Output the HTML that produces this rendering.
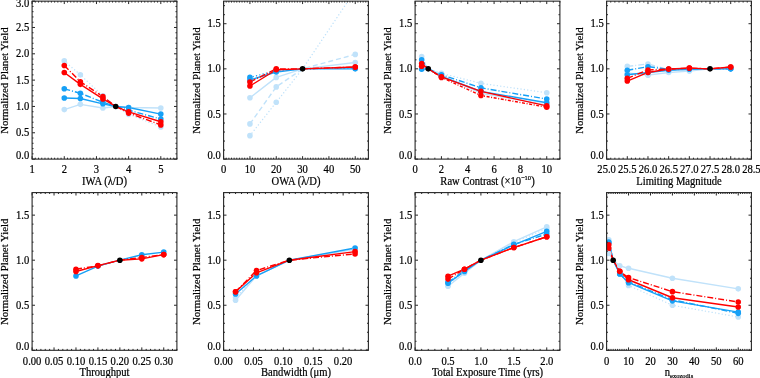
<!DOCTYPE html><html><head><meta charset="utf-8"><style>html,body{margin:0;padding:0;background:#fff;width:760px;height:378px;overflow:hidden}svg{display:block;will-change:transform}text{font-family:"Liberation Serif", serif;fill:#000;stroke:#000;stroke-width:0.2px}</style></head><body>
<svg width="760" height="378" viewBox="0 0 760 378">
<g>
<clipPath id="c00"><rect x="32.10" y="1.15" width="144.80" height="157.95"/></clipPath>
<g clip-path="url(#c00)">
<polyline points="64.28,109.61 80.37,104.34 102.89,108.03 115.76,106.45 128.63,107.50 160.81,108.03" fill="none" stroke="#c0e2fa" stroke-width="1.4" stroke-linejoin="round"/>
<polyline points="64.28,60.91 80.37,74.86 102.89,95.92 115.76,106.45 128.63,114.35 160.81,126.98" fill="none" stroke="#c0e2fa" stroke-width="1.4" stroke-linejoin="round" stroke-linecap="round" stroke-width="1.3" stroke-dasharray="0.01 3.4"/>
<polyline points="64.28,98.03 80.37,98.55 102.89,103.82 115.76,106.45 128.63,107.50 160.81,114.08" fill="none" stroke="#16a0f6" stroke-width="1.4" stroke-linejoin="round"/>
<polyline points="64.28,88.81 80.37,93.29 102.89,102.24 115.76,106.45 128.63,110.14 160.81,119.09" fill="none" stroke="#16a0f6" stroke-width="1.4" stroke-linejoin="round" stroke-dasharray="6 2 1 2"/>
<polyline points="64.28,72.44 80.37,84.34 102.89,98.92 115.76,106.45 128.63,111.87 160.81,121.72" fill="none" stroke="#ff0000" stroke-width="1.4" stroke-linejoin="round"/>
<polyline points="64.28,65.54 80.37,81.70 102.89,96.60 115.76,106.45 128.63,113.08 160.81,124.88" fill="none" stroke="#ff0000" stroke-width="1.4" stroke-linejoin="round" stroke-dasharray="6 2 1 2"/>
<circle cx="64.28" cy="109.61" r="2.8" fill="#c0e2fa"/>
<circle cx="80.37" cy="104.34" r="2.8" fill="#c0e2fa"/>
<circle cx="102.89" cy="108.03" r="2.8" fill="#c0e2fa"/>
<circle cx="128.63" cy="107.50" r="2.8" fill="#c0e2fa"/>
<circle cx="160.81" cy="108.03" r="2.8" fill="#c0e2fa"/>
<circle cx="64.28" cy="60.91" r="2.8" fill="#c0e2fa"/>
<circle cx="80.37" cy="74.86" r="2.8" fill="#c0e2fa"/>
<circle cx="102.89" cy="95.92" r="2.8" fill="#c0e2fa"/>
<circle cx="128.63" cy="114.35" r="2.8" fill="#c0e2fa"/>
<circle cx="160.81" cy="126.98" r="2.8" fill="#c0e2fa"/>
<circle cx="64.28" cy="98.03" r="2.8" fill="#16a0f6"/>
<circle cx="80.37" cy="98.55" r="2.8" fill="#16a0f6"/>
<circle cx="102.89" cy="103.82" r="2.8" fill="#16a0f6"/>
<circle cx="128.63" cy="107.50" r="2.8" fill="#16a0f6"/>
<circle cx="160.81" cy="114.08" r="2.8" fill="#16a0f6"/>
<circle cx="64.28" cy="88.81" r="2.8" fill="#16a0f6"/>
<circle cx="80.37" cy="93.29" r="2.8" fill="#16a0f6"/>
<circle cx="102.89" cy="102.24" r="2.8" fill="#16a0f6"/>
<circle cx="128.63" cy="110.14" r="2.8" fill="#16a0f6"/>
<circle cx="160.81" cy="119.09" r="2.8" fill="#16a0f6"/>
<circle cx="64.28" cy="72.44" r="2.8" fill="#ff0000"/>
<circle cx="80.37" cy="84.34" r="2.8" fill="#ff0000"/>
<circle cx="102.89" cy="98.92" r="2.8" fill="#ff0000"/>
<circle cx="128.63" cy="111.87" r="2.8" fill="#ff0000"/>
<circle cx="160.81" cy="121.72" r="2.8" fill="#ff0000"/>
<circle cx="64.28" cy="65.54" r="2.8" fill="#ff0000"/>
<circle cx="80.37" cy="81.70" r="2.8" fill="#ff0000"/>
<circle cx="102.89" cy="96.60" r="2.8" fill="#ff0000"/>
<circle cx="128.63" cy="113.08" r="2.8" fill="#ff0000"/>
<circle cx="160.81" cy="124.88" r="2.8" fill="#ff0000"/>
<circle cx="115.76" cy="106.45" r="2.8" fill="#000"/>
</g>
<rect x="32.10" y="1.15" width="144.80" height="157.95" fill="none" stroke="#262626" stroke-width="1.1"/>
<path d="M32.10 159.10v-2.90M32.10 1.15v2.90M35.32 159.10v-1.40M35.32 1.15v1.40M38.54 159.10v-1.40M38.54 1.15v1.40M41.75 159.10v-1.40M41.75 1.15v1.40M44.97 159.10v-1.40M44.97 1.15v1.40M48.19 159.10v-1.40M48.19 1.15v1.40M51.41 159.10v-1.40M51.41 1.15v1.40M54.62 159.10v-1.40M54.62 1.15v1.40M57.84 159.10v-1.40M57.84 1.15v1.40M61.06 159.10v-1.40M61.06 1.15v1.40M64.28 159.10v-2.90M64.28 1.15v2.90M67.50 159.10v-1.40M67.50 1.15v1.40M70.71 159.10v-1.40M70.71 1.15v1.40M73.93 159.10v-1.40M73.93 1.15v1.40M77.15 159.10v-1.40M77.15 1.15v1.40M80.37 159.10v-1.40M80.37 1.15v1.40M83.58 159.10v-1.40M83.58 1.15v1.40M86.80 159.10v-1.40M86.80 1.15v1.40M90.02 159.10v-1.40M90.02 1.15v1.40M93.24 159.10v-1.40M93.24 1.15v1.40M96.46 159.10v-2.90M96.46 1.15v2.90M99.67 159.10v-1.40M99.67 1.15v1.40M102.89 159.10v-1.40M102.89 1.15v1.40M106.11 159.10v-1.40M106.11 1.15v1.40M109.33 159.10v-1.40M109.33 1.15v1.40M112.54 159.10v-1.40M112.54 1.15v1.40M115.76 159.10v-1.40M115.76 1.15v1.40M118.98 159.10v-1.40M118.98 1.15v1.40M122.20 159.10v-1.40M122.20 1.15v1.40M125.42 159.10v-1.40M125.42 1.15v1.40M128.63 159.10v-2.90M128.63 1.15v2.90M131.85 159.10v-1.40M131.85 1.15v1.40M135.07 159.10v-1.40M135.07 1.15v1.40M138.29 159.10v-1.40M138.29 1.15v1.40M141.50 159.10v-1.40M141.50 1.15v1.40M144.72 159.10v-1.40M144.72 1.15v1.40M147.94 159.10v-1.40M147.94 1.15v1.40M151.16 159.10v-1.40M151.16 1.15v1.40M154.38 159.10v-1.40M154.38 1.15v1.40M157.59 159.10v-1.40M157.59 1.15v1.40M160.81 159.10v-2.90M160.81 1.15v2.90M164.03 159.10v-1.40M164.03 1.15v1.40M167.25 159.10v-1.40M167.25 1.15v1.40M170.46 159.10v-1.40M170.46 1.15v1.40M173.68 159.10v-1.40M173.68 1.15v1.40M176.90 159.10v-1.40M176.90 1.15v1.40M32.10 159.10h2.90M176.90 159.10h-2.90M32.10 153.84h1.40M176.90 153.84h-1.40M32.10 148.57h1.40M176.90 148.57h-1.40M32.10 143.31h1.40M176.90 143.31h-1.40M32.10 138.04h1.40M176.90 138.04h-1.40M32.10 132.78h2.90M176.90 132.78h-2.90M32.10 127.51h1.40M176.90 127.51h-1.40M32.10 122.24h1.40M176.90 122.24h-1.40M32.10 116.98h1.40M176.90 116.98h-1.40M32.10 111.72h1.40M176.90 111.72h-1.40M32.10 106.45h2.90M176.90 106.45h-2.90M32.10 101.19h1.40M176.90 101.19h-1.40M32.10 95.92h1.40M176.90 95.92h-1.40M32.10 90.66h1.40M176.90 90.66h-1.40M32.10 85.39h1.40M176.90 85.39h-1.40M32.10 80.12h2.90M176.90 80.12h-2.90M32.10 74.86h1.40M176.90 74.86h-1.40M32.10 69.59h1.40M176.90 69.59h-1.40M32.10 64.33h1.40M176.90 64.33h-1.40M32.10 59.06h1.40M176.90 59.06h-1.40M32.10 53.80h2.90M176.90 53.80h-2.90M32.10 48.53h1.40M176.90 48.53h-1.40M32.10 43.27h1.40M176.90 43.27h-1.40M32.10 38.00h1.40M176.90 38.00h-1.40M32.10 32.74h1.40M176.90 32.74h-1.40M32.10 27.47h2.90M176.90 27.47h-2.90M32.10 22.21h1.40M176.90 22.21h-1.40M32.10 16.94h1.40M176.90 16.94h-1.40M32.10 11.68h1.40M176.90 11.68h-1.40M32.10 6.41h1.40M176.90 6.41h-1.40M32.10 1.15h2.90M176.90 1.15h-2.90" stroke="#262626" stroke-width="1.0" fill="none"/>
<text transform="translate(32.10 173.30) scale(1 1.100)" font-size="10.6" text-anchor="middle">1</text>
<text transform="translate(64.28 173.30) scale(1 1.100)" font-size="10.6" text-anchor="middle">2</text>
<text transform="translate(96.46 173.30) scale(1 1.100)" font-size="10.6" text-anchor="middle">3</text>
<text transform="translate(128.63 173.30) scale(1 1.100)" font-size="10.6" text-anchor="middle">4</text>
<text transform="translate(160.81 173.30) scale(1 1.100)" font-size="10.6" text-anchor="middle">5</text>
<text transform="translate(29.30 159.10) scale(1 1.100)" font-size="10.6" text-anchor="end">0.0</text>
<text transform="translate(29.30 136.38) scale(1 1.100)" font-size="10.6" text-anchor="end">0.5</text>
<text transform="translate(29.30 110.05) scale(1 1.100)" font-size="10.6" text-anchor="end">1.0</text>
<text transform="translate(29.30 83.72) scale(1 1.100)" font-size="10.6" text-anchor="end">1.5</text>
<text transform="translate(29.30 57.40) scale(1 1.100)" font-size="10.6" text-anchor="end">2.0</text>
<text transform="translate(29.30 31.07) scale(1 1.100)" font-size="10.6" text-anchor="end">2.5</text>
<text transform="translate(29.30 6.85) scale(1 1.100)" font-size="10.6" text-anchor="end">3.0</text>
<text transform="translate(8.10 80.53) rotate(-90)" font-size="10.8" text-anchor="middle">Normalized Planet Yield</text>
<text transform="translate(104.50 184.50) scale(1 1.100)" font-size="10.6" text-anchor="middle">IWA (λ/D)</text>
</g>
<g>
<clipPath id="c10"><rect x="223.60" y="1.15" width="144.80" height="157.95"/></clipPath>
<g clip-path="url(#c10)">
<polyline points="249.93,97.73 276.25,77.42 302.58,68.84 355.24,62.52" fill="none" stroke="#c0e2fa" stroke-width="1.4" stroke-linejoin="round"/>
<polyline points="249.93,123.90 276.25,86.89 302.58,68.84 355.24,54.40" fill="none" stroke="#c0e2fa" stroke-width="1.4" stroke-linejoin="round" stroke-dasharray="5 3"/>
<polyline points="249.93,135.63 276.25,102.24 302.58,68.84 355.24,-9.68" fill="none" stroke="#c0e2fa" stroke-width="1.4" stroke-linejoin="round" stroke-linecap="round" stroke-width="1.3" stroke-dasharray="0.01 3.4"/>
<polyline points="249.93,79.94 276.25,72.00 302.58,68.84 355.24,68.84" fill="none" stroke="#16a0f6" stroke-width="1.4" stroke-linejoin="round"/>
<polyline points="249.93,77.42 276.25,70.65 302.58,68.84 355.24,67.94" fill="none" stroke="#16a0f6" stroke-width="1.4" stroke-linejoin="round" stroke-linecap="round" stroke-width="1.3" stroke-dasharray="0.01 3.4"/>
<polyline points="249.93,81.93 276.25,68.84 302.58,68.84 355.24,67.04" fill="none" stroke="#ff0000" stroke-width="1.4" stroke-linejoin="round" stroke-dasharray="6 2 1 2"/>
<polyline points="249.93,85.99 276.25,69.75 302.58,68.84 355.24,67.04" fill="none" stroke="#ff0000" stroke-width="1.4" stroke-linejoin="round"/>
<circle cx="249.93" cy="97.73" r="2.8" fill="#c0e2fa"/>
<circle cx="276.25" cy="77.42" r="2.8" fill="#c0e2fa"/>
<circle cx="355.24" cy="62.52" r="2.8" fill="#c0e2fa"/>
<circle cx="249.93" cy="123.90" r="2.8" fill="#c0e2fa"/>
<circle cx="276.25" cy="86.89" r="2.8" fill="#c0e2fa"/>
<circle cx="355.24" cy="54.40" r="2.8" fill="#c0e2fa"/>
<circle cx="249.93" cy="135.63" r="2.8" fill="#c0e2fa"/>
<circle cx="276.25" cy="102.24" r="2.8" fill="#c0e2fa"/>
<circle cx="355.24" cy="-9.68" r="2.8" fill="#c0e2fa"/>
<circle cx="249.93" cy="79.94" r="2.8" fill="#16a0f6"/>
<circle cx="276.25" cy="72.00" r="2.8" fill="#16a0f6"/>
<circle cx="355.24" cy="68.84" r="2.8" fill="#16a0f6"/>
<circle cx="249.93" cy="77.42" r="2.8" fill="#16a0f6"/>
<circle cx="276.25" cy="70.65" r="2.8" fill="#16a0f6"/>
<circle cx="355.24" cy="67.94" r="2.8" fill="#16a0f6"/>
<circle cx="249.93" cy="81.93" r="2.8" fill="#ff0000"/>
<circle cx="276.25" cy="68.84" r="2.8" fill="#ff0000"/>
<circle cx="355.24" cy="67.04" r="2.8" fill="#ff0000"/>
<circle cx="249.93" cy="85.99" r="2.8" fill="#ff0000"/>
<circle cx="276.25" cy="69.75" r="2.8" fill="#ff0000"/>
<circle cx="355.24" cy="67.04" r="2.8" fill="#ff0000"/>
<circle cx="302.58" cy="68.84" r="2.8" fill="#000"/>
</g>
<rect x="223.60" y="1.15" width="144.80" height="157.95" fill="none" stroke="#262626" stroke-width="1.1"/>
<path d="M223.60 159.10v-2.90M223.60 1.15v2.90M226.23 159.10v-1.40M226.23 1.15v1.40M228.87 159.10v-1.40M228.87 1.15v1.40M231.50 159.10v-1.40M231.50 1.15v1.40M234.13 159.10v-1.40M234.13 1.15v1.40M236.76 159.10v-1.40M236.76 1.15v1.40M239.40 159.10v-1.40M239.40 1.15v1.40M242.03 159.10v-1.40M242.03 1.15v1.40M244.66 159.10v-1.40M244.66 1.15v1.40M247.29 159.10v-1.40M247.29 1.15v1.40M249.93 159.10v-2.90M249.93 1.15v2.90M252.56 159.10v-1.40M252.56 1.15v1.40M255.19 159.10v-1.40M255.19 1.15v1.40M257.83 159.10v-1.40M257.83 1.15v1.40M260.46 159.10v-1.40M260.46 1.15v1.40M263.09 159.10v-1.40M263.09 1.15v1.40M265.72 159.10v-1.40M265.72 1.15v1.40M268.36 159.10v-1.40M268.36 1.15v1.40M270.99 159.10v-1.40M270.99 1.15v1.40M273.62 159.10v-1.40M273.62 1.15v1.40M276.25 159.10v-2.90M276.25 1.15v2.90M278.89 159.10v-1.40M278.89 1.15v1.40M281.52 159.10v-1.40M281.52 1.15v1.40M284.15 159.10v-1.40M284.15 1.15v1.40M286.79 159.10v-1.40M286.79 1.15v1.40M289.42 159.10v-1.40M289.42 1.15v1.40M292.05 159.10v-1.40M292.05 1.15v1.40M294.68 159.10v-1.40M294.68 1.15v1.40M297.32 159.10v-1.40M297.32 1.15v1.40M299.95 159.10v-1.40M299.95 1.15v1.40M302.58 159.10v-2.90M302.58 1.15v2.90M305.21 159.10v-1.40M305.21 1.15v1.40M307.85 159.10v-1.40M307.85 1.15v1.40M310.48 159.10v-1.40M310.48 1.15v1.40M313.11 159.10v-1.40M313.11 1.15v1.40M315.75 159.10v-1.40M315.75 1.15v1.40M318.38 159.10v-1.40M318.38 1.15v1.40M321.01 159.10v-1.40M321.01 1.15v1.40M323.64 159.10v-1.40M323.64 1.15v1.40M326.28 159.10v-1.40M326.28 1.15v1.40M328.91 159.10v-2.90M328.91 1.15v2.90M331.54 159.10v-1.40M331.54 1.15v1.40M334.17 159.10v-1.40M334.17 1.15v1.40M336.81 159.10v-1.40M336.81 1.15v1.40M339.44 159.10v-1.40M339.44 1.15v1.40M342.07 159.10v-1.40M342.07 1.15v1.40M344.71 159.10v-1.40M344.71 1.15v1.40M347.34 159.10v-1.40M347.34 1.15v1.40M349.97 159.10v-1.40M349.97 1.15v1.40M352.60 159.10v-1.40M352.60 1.15v1.40M355.24 159.10v-2.90M355.24 1.15v2.90M357.87 159.10v-1.40M357.87 1.15v1.40M360.50 159.10v-1.40M360.50 1.15v1.40M363.13 159.10v-1.40M363.13 1.15v1.40M365.77 159.10v-1.40M365.77 1.15v1.40M368.40 159.10v-1.40M368.40 1.15v1.40M223.60 159.10h2.90M368.40 159.10h-2.90M223.60 150.07h1.40M368.40 150.07h-1.40M223.60 141.05h1.40M368.40 141.05h-1.40M223.60 132.02h1.40M368.40 132.02h-1.40M223.60 123.00h1.40M368.40 123.00h-1.40M223.60 113.97h2.90M368.40 113.97h-2.90M223.60 104.95h1.40M368.40 104.95h-1.40M223.60 95.92h1.40M368.40 95.92h-1.40M223.60 86.89h1.40M368.40 86.89h-1.40M223.60 77.87h1.40M368.40 77.87h-1.40M223.60 68.84h2.90M368.40 68.84h-2.90M223.60 59.82h1.40M368.40 59.82h-1.40M223.60 50.79h1.40M368.40 50.79h-1.40M223.60 41.77h1.40M368.40 41.77h-1.40M223.60 32.74h1.40M368.40 32.74h-1.40M223.60 23.71h2.90M368.40 23.71h-2.90M223.60 14.69h1.40M368.40 14.69h-1.40M223.60 5.66h1.40M368.40 5.66h-1.40" stroke="#262626" stroke-width="1.0" fill="none"/>
<text transform="translate(223.60 173.30) scale(1 1.100)" font-size="10.6" text-anchor="middle">0</text>
<text transform="translate(249.93 173.30) scale(1 1.100)" font-size="10.6" text-anchor="middle">10</text>
<text transform="translate(276.25 173.30) scale(1 1.100)" font-size="10.6" text-anchor="middle">20</text>
<text transform="translate(302.58 173.30) scale(1 1.100)" font-size="10.6" text-anchor="middle">30</text>
<text transform="translate(328.91 173.30) scale(1 1.100)" font-size="10.6" text-anchor="middle">40</text>
<text transform="translate(355.24 173.30) scale(1 1.100)" font-size="10.6" text-anchor="middle">50</text>
<text transform="translate(220.80 159.10) scale(1 1.100)" font-size="10.6" text-anchor="end">0.0</text>
<text transform="translate(220.80 117.57) scale(1 1.100)" font-size="10.6" text-anchor="end">0.5</text>
<text transform="translate(220.80 72.44) scale(1 1.100)" font-size="10.6" text-anchor="end">1.0</text>
<text transform="translate(220.80 27.31) scale(1 1.100)" font-size="10.6" text-anchor="end">1.5</text>
<text transform="translate(199.60 80.53) rotate(-90)" font-size="10.8" text-anchor="middle">Normalized Planet Yield</text>
<text transform="translate(296.00 184.50) scale(1 1.100)" font-size="10.6" text-anchor="middle">OWA (λ/D)</text>
</g>
<g>
<clipPath id="c20"><rect x="415.10" y="1.15" width="144.80" height="157.95"/></clipPath>
<g clip-path="url(#c20)">
<polyline points="421.68,56.48 428.26,68.84 441.43,73.36 480.92,83.28 546.74,92.76" fill="none" stroke="#c0e2fa" stroke-width="1.4" stroke-linejoin="round" stroke-linecap="round" stroke-width="1.3" stroke-dasharray="0.01 3.4"/>
<polyline points="421.68,68.84 428.26,68.84 441.43,75.61 480.92,93.21 546.74,104.95" fill="none" stroke="#c0e2fa" stroke-width="1.4" stroke-linejoin="round"/>
<polyline points="421.68,59.82 428.26,68.84 441.43,74.71 480.92,87.80 546.74,99.08" fill="none" stroke="#16a0f6" stroke-width="1.4" stroke-linejoin="round" stroke-dasharray="6 2 1 2"/>
<polyline points="421.68,69.20 428.26,68.84 441.43,76.51 480.92,91.41 546.74,102.69" fill="none" stroke="#16a0f6" stroke-width="1.4" stroke-linejoin="round"/>
<polyline points="421.68,63.61 428.26,68.84 441.43,76.79 480.92,91.41 546.74,105.85" fill="none" stroke="#ff0000" stroke-width="1.4" stroke-linejoin="round"/>
<polyline points="421.68,66.14 428.26,68.84 441.43,77.42 480.92,95.47 546.74,107.20" fill="none" stroke="#ff0000" stroke-width="1.4" stroke-linejoin="round" stroke-dasharray="3 1.6 1 1.6"/>
<circle cx="421.68" cy="56.48" r="2.8" fill="#c0e2fa"/>
<circle cx="441.43" cy="73.36" r="2.8" fill="#c0e2fa"/>
<circle cx="480.92" cy="83.28" r="2.8" fill="#c0e2fa"/>
<circle cx="546.74" cy="92.76" r="2.8" fill="#c0e2fa"/>
<circle cx="421.68" cy="68.84" r="2.8" fill="#c0e2fa"/>
<circle cx="441.43" cy="75.61" r="2.8" fill="#c0e2fa"/>
<circle cx="480.92" cy="93.21" r="2.8" fill="#c0e2fa"/>
<circle cx="546.74" cy="104.95" r="2.8" fill="#c0e2fa"/>
<circle cx="421.68" cy="59.82" r="2.8" fill="#16a0f6"/>
<circle cx="441.43" cy="74.71" r="2.8" fill="#16a0f6"/>
<circle cx="480.92" cy="87.80" r="2.8" fill="#16a0f6"/>
<circle cx="546.74" cy="99.08" r="2.8" fill="#16a0f6"/>
<circle cx="421.68" cy="69.20" r="2.8" fill="#16a0f6"/>
<circle cx="441.43" cy="76.51" r="2.8" fill="#16a0f6"/>
<circle cx="480.92" cy="91.41" r="2.8" fill="#16a0f6"/>
<circle cx="546.74" cy="102.69" r="2.8" fill="#16a0f6"/>
<circle cx="421.68" cy="63.61" r="2.8" fill="#ff0000"/>
<circle cx="441.43" cy="76.79" r="2.8" fill="#ff0000"/>
<circle cx="480.92" cy="91.41" r="2.8" fill="#ff0000"/>
<circle cx="546.74" cy="105.85" r="2.8" fill="#ff0000"/>
<circle cx="421.68" cy="66.14" r="2.8" fill="#ff0000"/>
<circle cx="441.43" cy="77.42" r="2.8" fill="#ff0000"/>
<circle cx="480.92" cy="95.47" r="2.8" fill="#ff0000"/>
<circle cx="546.74" cy="107.20" r="2.8" fill="#ff0000"/>
<circle cx="428.26" cy="68.84" r="2.8" fill="#000"/>
</g>
<rect x="415.10" y="1.15" width="144.80" height="157.95" fill="none" stroke="#262626" stroke-width="1.1"/>
<path d="M415.10 159.10v-2.90M415.10 1.15v2.90M421.68 159.10v-1.40M421.68 1.15v1.40M428.26 159.10v-1.40M428.26 1.15v1.40M434.85 159.10v-1.40M434.85 1.15v1.40M441.43 159.10v-2.90M441.43 1.15v2.90M448.01 159.10v-1.40M448.01 1.15v1.40M454.59 159.10v-1.40M454.59 1.15v1.40M461.17 159.10v-1.40M461.17 1.15v1.40M467.75 159.10v-2.90M467.75 1.15v2.90M474.34 159.10v-1.40M474.34 1.15v1.40M480.92 159.10v-1.40M480.92 1.15v1.40M487.50 159.10v-1.40M487.50 1.15v1.40M494.08 159.10v-2.90M494.08 1.15v2.90M500.66 159.10v-1.40M500.66 1.15v1.40M507.25 159.10v-1.40M507.25 1.15v1.40M513.83 159.10v-1.40M513.83 1.15v1.40M520.41 159.10v-2.90M520.41 1.15v2.90M526.99 159.10v-1.40M526.99 1.15v1.40M533.57 159.10v-1.40M533.57 1.15v1.40M540.15 159.10v-1.40M540.15 1.15v1.40M546.74 159.10v-2.90M546.74 1.15v2.90M553.32 159.10v-1.40M553.32 1.15v1.40M559.90 159.10v-1.40M559.90 1.15v1.40M415.10 159.10h2.90M559.90 159.10h-2.90M415.10 150.07h1.40M559.90 150.07h-1.40M415.10 141.05h1.40M559.90 141.05h-1.40M415.10 132.02h1.40M559.90 132.02h-1.40M415.10 123.00h1.40M559.90 123.00h-1.40M415.10 113.97h2.90M559.90 113.97h-2.90M415.10 104.95h1.40M559.90 104.95h-1.40M415.10 95.92h1.40M559.90 95.92h-1.40M415.10 86.89h1.40M559.90 86.89h-1.40M415.10 77.87h1.40M559.90 77.87h-1.40M415.10 68.84h2.90M559.90 68.84h-2.90M415.10 59.82h1.40M559.90 59.82h-1.40M415.10 50.79h1.40M559.90 50.79h-1.40M415.10 41.77h1.40M559.90 41.77h-1.40M415.10 32.74h1.40M559.90 32.74h-1.40M415.10 23.71h2.90M559.90 23.71h-2.90M415.10 14.69h1.40M559.90 14.69h-1.40M415.10 5.66h1.40M559.90 5.66h-1.40" stroke="#262626" stroke-width="1.0" fill="none"/>
<text transform="translate(415.10 173.30) scale(1 1.100)" font-size="10.6" text-anchor="middle">0</text>
<text transform="translate(441.43 173.30) scale(1 1.100)" font-size="10.6" text-anchor="middle">2</text>
<text transform="translate(467.75 173.30) scale(1 1.100)" font-size="10.6" text-anchor="middle">4</text>
<text transform="translate(494.08 173.30) scale(1 1.100)" font-size="10.6" text-anchor="middle">6</text>
<text transform="translate(520.41 173.30) scale(1 1.100)" font-size="10.6" text-anchor="middle">8</text>
<text transform="translate(546.74 173.30) scale(1 1.100)" font-size="10.6" text-anchor="middle">10</text>
<text transform="translate(412.30 159.10) scale(1 1.100)" font-size="10.6" text-anchor="end">0.0</text>
<text transform="translate(412.30 117.57) scale(1 1.100)" font-size="10.6" text-anchor="end">0.5</text>
<text transform="translate(412.30 72.44) scale(1 1.100)" font-size="10.6" text-anchor="end">1.0</text>
<text transform="translate(412.30 27.31) scale(1 1.100)" font-size="10.6" text-anchor="end">1.5</text>
<text transform="translate(391.10 80.53) rotate(-90)" font-size="10.8" text-anchor="middle">Normalized Planet Yield</text>
<text transform="translate(487.50 184.50) scale(1 1.100)" font-size="10.6" text-anchor="middle">Raw Contrast (×10<tspan font-size="6.5" dy="-4">−10</tspan><tspan dy="4">)</tspan></text>
</g>
<g>
<clipPath id="c30"><rect x="606.60" y="1.15" width="144.80" height="157.95"/></clipPath>
<g clip-path="url(#c30)">
<polyline points="627.29,66.41 647.97,63.97 668.66,69.75 689.34,69.75 710.03,68.84 730.71,68.84" fill="none" stroke="#c0e2fa" stroke-width="1.4" stroke-linejoin="round" stroke-dasharray="6 2 1 2"/>
<polyline points="627.29,72.90 647.97,75.16 668.66,72.45 689.34,71.10 710.03,68.84 730.71,68.84" fill="none" stroke="#c0e2fa" stroke-width="1.4" stroke-linejoin="round"/>
<polyline points="627.29,70.20 647.97,66.68 668.66,69.29 689.34,68.84 710.03,68.84 730.71,68.84" fill="none" stroke="#16a0f6" stroke-width="1.4" stroke-linejoin="round" stroke-dasharray="6 2 1 2"/>
<polyline points="627.29,74.71 647.97,72.45 668.66,70.20 689.34,69.29 710.03,68.84 730.71,68.84" fill="none" stroke="#16a0f6" stroke-width="1.4" stroke-linejoin="round"/>
<polyline points="627.29,78.32 647.97,69.93 668.66,69.02 689.34,68.12 710.03,68.84 730.71,67.04" fill="none" stroke="#ff0000" stroke-width="1.4" stroke-linejoin="round" stroke-dasharray="6 2 1 2"/>
<polyline points="627.29,81.03 647.97,72.45 668.66,69.02 689.34,68.12 710.03,68.84 730.71,67.04" fill="none" stroke="#ff0000" stroke-width="1.4" stroke-linejoin="round"/>
<circle cx="627.29" cy="66.41" r="2.8" fill="#c0e2fa"/>
<circle cx="647.97" cy="63.97" r="2.8" fill="#c0e2fa"/>
<circle cx="668.66" cy="69.75" r="2.8" fill="#c0e2fa"/>
<circle cx="689.34" cy="69.75" r="2.8" fill="#c0e2fa"/>
<circle cx="730.71" cy="68.84" r="2.8" fill="#c0e2fa"/>
<circle cx="627.29" cy="72.90" r="2.8" fill="#c0e2fa"/>
<circle cx="647.97" cy="75.16" r="2.8" fill="#c0e2fa"/>
<circle cx="668.66" cy="72.45" r="2.8" fill="#c0e2fa"/>
<circle cx="689.34" cy="71.10" r="2.8" fill="#c0e2fa"/>
<circle cx="730.71" cy="68.84" r="2.8" fill="#c0e2fa"/>
<circle cx="627.29" cy="70.20" r="2.8" fill="#16a0f6"/>
<circle cx="647.97" cy="66.68" r="2.8" fill="#16a0f6"/>
<circle cx="668.66" cy="69.29" r="2.8" fill="#16a0f6"/>
<circle cx="689.34" cy="68.84" r="2.8" fill="#16a0f6"/>
<circle cx="730.71" cy="68.84" r="2.8" fill="#16a0f6"/>
<circle cx="627.29" cy="74.71" r="2.8" fill="#16a0f6"/>
<circle cx="647.97" cy="72.45" r="2.8" fill="#16a0f6"/>
<circle cx="668.66" cy="70.20" r="2.8" fill="#16a0f6"/>
<circle cx="689.34" cy="69.29" r="2.8" fill="#16a0f6"/>
<circle cx="730.71" cy="68.84" r="2.8" fill="#16a0f6"/>
<circle cx="627.29" cy="78.32" r="2.8" fill="#ff0000"/>
<circle cx="647.97" cy="69.93" r="2.8" fill="#ff0000"/>
<circle cx="668.66" cy="69.02" r="2.8" fill="#ff0000"/>
<circle cx="689.34" cy="68.12" r="2.8" fill="#ff0000"/>
<circle cx="730.71" cy="67.04" r="2.8" fill="#ff0000"/>
<circle cx="627.29" cy="81.03" r="2.8" fill="#ff0000"/>
<circle cx="647.97" cy="72.45" r="2.8" fill="#ff0000"/>
<circle cx="668.66" cy="69.02" r="2.8" fill="#ff0000"/>
<circle cx="689.34" cy="68.12" r="2.8" fill="#ff0000"/>
<circle cx="730.71" cy="67.04" r="2.8" fill="#ff0000"/>
<circle cx="710.03" cy="68.84" r="2.8" fill="#000"/>
</g>
<rect x="606.60" y="1.15" width="144.80" height="157.95" fill="none" stroke="#262626" stroke-width="1.1"/>
<path d="M606.60 159.10v-2.90M606.60 1.15v2.90M610.74 159.10v-1.40M610.74 1.15v1.40M614.87 159.10v-1.40M614.87 1.15v1.40M619.01 159.10v-1.40M619.01 1.15v1.40M623.15 159.10v-1.40M623.15 1.15v1.40M627.29 159.10v-2.90M627.29 1.15v2.90M631.42 159.10v-1.40M631.42 1.15v1.40M635.56 159.10v-1.40M635.56 1.15v1.40M639.70 159.10v-1.40M639.70 1.15v1.40M643.83 159.10v-1.40M643.83 1.15v1.40M647.97 159.10v-2.90M647.97 1.15v2.90M652.11 159.10v-1.40M652.11 1.15v1.40M656.25 159.10v-1.40M656.25 1.15v1.40M660.38 159.10v-1.40M660.38 1.15v1.40M664.52 159.10v-1.40M664.52 1.15v1.40M668.66 159.10v-2.90M668.66 1.15v2.90M672.79 159.10v-1.40M672.79 1.15v1.40M676.93 159.10v-1.40M676.93 1.15v1.40M681.07 159.10v-1.40M681.07 1.15v1.40M685.21 159.10v-1.40M685.21 1.15v1.40M689.34 159.10v-2.90M689.34 1.15v2.90M693.48 159.10v-1.40M693.48 1.15v1.40M697.62 159.10v-1.40M697.62 1.15v1.40M701.75 159.10v-1.40M701.75 1.15v1.40M705.89 159.10v-1.40M705.89 1.15v1.40M710.03 159.10v-2.90M710.03 1.15v2.90M714.17 159.10v-1.40M714.17 1.15v1.40M718.30 159.10v-1.40M718.30 1.15v1.40M722.44 159.10v-1.40M722.44 1.15v1.40M726.58 159.10v-1.40M726.58 1.15v1.40M730.71 159.10v-2.90M730.71 1.15v2.90M734.85 159.10v-1.40M734.85 1.15v1.40M738.99 159.10v-1.40M738.99 1.15v1.40M743.13 159.10v-1.40M743.13 1.15v1.40M747.26 159.10v-1.40M747.26 1.15v1.40M751.40 159.10v-2.90M751.40 1.15v2.90M606.60 159.10h2.90M751.40 159.10h-2.90M606.60 150.07h1.40M751.40 150.07h-1.40M606.60 141.05h1.40M751.40 141.05h-1.40M606.60 132.02h1.40M751.40 132.02h-1.40M606.60 123.00h1.40M751.40 123.00h-1.40M606.60 113.97h2.90M751.40 113.97h-2.90M606.60 104.95h1.40M751.40 104.95h-1.40M606.60 95.92h1.40M751.40 95.92h-1.40M606.60 86.89h1.40M751.40 86.89h-1.40M606.60 77.87h1.40M751.40 77.87h-1.40M606.60 68.84h2.90M751.40 68.84h-2.90M606.60 59.82h1.40M751.40 59.82h-1.40M606.60 50.79h1.40M751.40 50.79h-1.40M606.60 41.77h1.40M751.40 41.77h-1.40M606.60 32.74h1.40M751.40 32.74h-1.40M606.60 23.71h2.90M751.40 23.71h-2.90M606.60 14.69h1.40M751.40 14.69h-1.40M606.60 5.66h1.40M751.40 5.66h-1.40" stroke="#262626" stroke-width="1.0" fill="none"/>
<text transform="translate(606.60 173.30) scale(1 1.100)" font-size="10.6" text-anchor="middle">25.0</text>
<text transform="translate(627.29 173.30) scale(1 1.100)" font-size="10.6" text-anchor="middle">25.5</text>
<text transform="translate(647.97 173.30) scale(1 1.100)" font-size="10.6" text-anchor="middle">26.0</text>
<text transform="translate(668.66 173.30) scale(1 1.100)" font-size="10.6" text-anchor="middle">26.5</text>
<text transform="translate(689.34 173.30) scale(1 1.100)" font-size="10.6" text-anchor="middle">27.0</text>
<text transform="translate(710.03 173.30) scale(1 1.100)" font-size="10.6" text-anchor="middle">27.5</text>
<text transform="translate(730.71 173.30) scale(1 1.100)" font-size="10.6" text-anchor="middle">28.0</text>
<text transform="translate(751.40 173.30) scale(1 1.100)" font-size="10.6" text-anchor="middle">28.5</text>
<text transform="translate(603.80 159.10) scale(1 1.100)" font-size="10.6" text-anchor="end">0.0</text>
<text transform="translate(603.80 117.57) scale(1 1.100)" font-size="10.6" text-anchor="end">0.5</text>
<text transform="translate(603.80 72.44) scale(1 1.100)" font-size="10.6" text-anchor="end">1.0</text>
<text transform="translate(603.80 27.31) scale(1 1.100)" font-size="10.6" text-anchor="end">1.5</text>
<text transform="translate(582.60 80.53) rotate(-90)" font-size="10.8" text-anchor="middle">Normalized Planet Yield</text>
<text transform="translate(679.00 184.50) scale(1 1.100)" font-size="10.6" text-anchor="middle">Limiting Magnitude</text>
</g>
<g>
<clipPath id="c01"><rect x="32.10" y="192.60" width="144.80" height="157.70"/></clipPath>
<g clip-path="url(#c01)">
<polyline points="75.98,275.96 97.92,266.04 119.86,260.19 141.80,254.78 163.74,252.08" fill="none" stroke="#16a0f6" stroke-width="1.4" stroke-linejoin="round"/>
<polyline points="75.98,269.20 97.92,265.86 119.86,260.19 141.80,257.48 163.74,254.60" fill="none" stroke="#ff0000" stroke-width="1.4" stroke-linejoin="round" stroke-dasharray="6 2 1 2"/>
<polyline points="75.98,271.45 97.92,265.59 119.86,260.19 141.80,258.83 163.74,254.60" fill="none" stroke="#ff0000" stroke-width="1.4" stroke-linejoin="round"/>
<circle cx="75.98" cy="275.96" r="2.8" fill="#16a0f6"/>
<circle cx="97.92" cy="266.04" r="2.8" fill="#16a0f6"/>
<circle cx="141.80" cy="254.78" r="2.8" fill="#16a0f6"/>
<circle cx="163.74" cy="252.08" r="2.8" fill="#16a0f6"/>
<circle cx="75.98" cy="269.20" r="2.8" fill="#ff0000"/>
<circle cx="97.92" cy="265.86" r="2.8" fill="#ff0000"/>
<circle cx="141.80" cy="257.48" r="2.8" fill="#ff0000"/>
<circle cx="163.74" cy="254.60" r="2.8" fill="#ff0000"/>
<circle cx="75.98" cy="271.45" r="2.8" fill="#ff0000"/>
<circle cx="97.92" cy="265.59" r="2.8" fill="#ff0000"/>
<circle cx="141.80" cy="258.83" r="2.8" fill="#ff0000"/>
<circle cx="163.74" cy="254.60" r="2.8" fill="#ff0000"/>
<circle cx="119.86" cy="260.19" r="2.8" fill="#000"/>
</g>
<rect x="32.10" y="192.60" width="144.80" height="157.70" fill="none" stroke="#262626" stroke-width="1.1"/>
<path d="M32.10 350.30v-2.90M32.10 192.60v2.90M36.49 350.30v-1.40M36.49 192.60v1.40M40.88 350.30v-1.40M40.88 192.60v1.40M45.26 350.30v-1.40M45.26 192.60v1.40M49.65 350.30v-1.40M49.65 192.60v1.40M54.04 350.30v-2.90M54.04 192.60v2.90M58.43 350.30v-1.40M58.43 192.60v1.40M62.82 350.30v-1.40M62.82 192.60v1.40M67.20 350.30v-1.40M67.20 192.60v1.40M71.59 350.30v-1.40M71.59 192.60v1.40M75.98 350.30v-2.90M75.98 192.60v2.90M80.37 350.30v-1.40M80.37 192.60v1.40M84.75 350.30v-1.40M84.75 192.60v1.40M89.14 350.30v-1.40M89.14 192.60v1.40M93.53 350.30v-1.40M93.53 192.60v1.40M97.92 350.30v-2.90M97.92 192.60v2.90M102.31 350.30v-1.40M102.31 192.60v1.40M106.69 350.30v-1.40M106.69 192.60v1.40M111.08 350.30v-1.40M111.08 192.60v1.40M115.47 350.30v-1.40M115.47 192.60v1.40M119.86 350.30v-2.90M119.86 192.60v2.90M124.25 350.30v-1.40M124.25 192.60v1.40M128.63 350.30v-1.40M128.63 192.60v1.40M133.02 350.30v-1.40M133.02 192.60v1.40M137.41 350.30v-1.40M137.41 192.60v1.40M141.80 350.30v-2.90M141.80 192.60v2.90M146.18 350.30v-1.40M146.18 192.60v1.40M150.57 350.30v-1.40M150.57 192.60v1.40M154.96 350.30v-1.40M154.96 192.60v1.40M159.35 350.30v-1.40M159.35 192.60v1.40M163.74 350.30v-2.90M163.74 192.60v2.90M168.12 350.30v-1.40M168.12 192.60v1.40M172.51 350.30v-1.40M172.51 192.60v1.40M176.90 350.30v-1.40M176.90 192.60v1.40M32.10 350.30h2.90M176.90 350.30h-2.90M32.10 341.29h1.40M176.90 341.29h-1.40M32.10 332.28h1.40M176.90 332.28h-1.40M32.10 323.27h1.40M176.90 323.27h-1.40M32.10 314.25h1.40M176.90 314.25h-1.40M32.10 305.24h2.90M176.90 305.24h-2.90M32.10 296.23h1.40M176.90 296.23h-1.40M32.10 287.22h1.40M176.90 287.22h-1.40M32.10 278.21h1.40M176.90 278.21h-1.40M32.10 269.20h1.40M176.90 269.20h-1.40M32.10 260.19h2.90M176.90 260.19h-2.90M32.10 251.17h1.40M176.90 251.17h-1.40M32.10 242.16h1.40M176.90 242.16h-1.40M32.10 233.15h1.40M176.90 233.15h-1.40M32.10 224.14h1.40M176.90 224.14h-1.40M32.10 215.13h2.90M176.90 215.13h-2.90M32.10 206.12h1.40M176.90 206.12h-1.40M32.10 197.11h1.40M176.90 197.11h-1.40" stroke="#262626" stroke-width="1.0" fill="none"/>
<text transform="translate(32.10 364.50) scale(1 1.100)" font-size="10.6" text-anchor="middle">0.00</text>
<text transform="translate(54.04 364.50) scale(1 1.100)" font-size="10.6" text-anchor="middle">0.05</text>
<text transform="translate(75.98 364.50) scale(1 1.100)" font-size="10.6" text-anchor="middle">0.10</text>
<text transform="translate(97.92 364.50) scale(1 1.100)" font-size="10.6" text-anchor="middle">0.15</text>
<text transform="translate(119.86 364.50) scale(1 1.100)" font-size="10.6" text-anchor="middle">0.20</text>
<text transform="translate(141.80 364.50) scale(1 1.100)" font-size="10.6" text-anchor="middle">0.25</text>
<text transform="translate(163.74 364.50) scale(1 1.100)" font-size="10.6" text-anchor="middle">0.30</text>
<text transform="translate(29.30 350.30) scale(1 1.100)" font-size="10.6" text-anchor="end">0.0</text>
<text transform="translate(29.30 308.84) scale(1 1.100)" font-size="10.6" text-anchor="end">0.5</text>
<text transform="translate(29.30 263.79) scale(1 1.100)" font-size="10.6" text-anchor="end">1.0</text>
<text transform="translate(29.30 218.73) scale(1 1.100)" font-size="10.6" text-anchor="end">1.5</text>
<text transform="translate(8.10 271.85) rotate(-90)" font-size="10.8" text-anchor="middle">Normalized Planet Yield</text>
<text transform="translate(104.50 375.70) scale(1 1.100)" font-size="10.6" text-anchor="middle">Throughput</text>
</g>
<g>
<clipPath id="c11"><rect x="223.60" y="192.60" width="144.80" height="157.70"/></clipPath>
<g clip-path="url(#c11)">
<polyline points="235.55,300.29 256.47,275.96 289.34,260.19 355.07,249.37" fill="none" stroke="#c0e2fa" stroke-width="1.4" stroke-linejoin="round"/>
<polyline points="235.55,297.58 256.47,275.51 289.34,260.19 355.07,248.92" fill="none" stroke="#c0e2fa" stroke-width="1.4" stroke-linejoin="round" stroke-linecap="round" stroke-width="1.3" stroke-dasharray="0.01 3.4"/>
<polyline points="235.55,293.98 256.47,275.96 289.34,260.19 355.07,248.02" fill="none" stroke="#16a0f6" stroke-width="1.4" stroke-linejoin="round"/>
<polyline points="235.55,291.73 256.47,270.55 289.34,260.19 355.07,253.88" fill="none" stroke="#ff0000" stroke-width="1.4" stroke-linejoin="round" stroke-dasharray="6 2 1 2"/>
<polyline points="235.55,291.73 256.47,272.80 289.34,260.19 355.07,251.62" fill="none" stroke="#ff0000" stroke-width="1.4" stroke-linejoin="round"/>
<circle cx="235.55" cy="300.29" r="2.8" fill="#c0e2fa"/>
<circle cx="256.47" cy="275.96" r="2.8" fill="#c0e2fa"/>
<circle cx="355.07" cy="249.37" r="2.8" fill="#c0e2fa"/>
<circle cx="235.55" cy="297.58" r="2.8" fill="#c0e2fa"/>
<circle cx="256.47" cy="275.51" r="2.8" fill="#c0e2fa"/>
<circle cx="355.07" cy="248.92" r="2.8" fill="#c0e2fa"/>
<circle cx="235.55" cy="293.98" r="2.8" fill="#16a0f6"/>
<circle cx="256.47" cy="275.96" r="2.8" fill="#16a0f6"/>
<circle cx="355.07" cy="248.02" r="2.8" fill="#16a0f6"/>
<circle cx="235.55" cy="291.73" r="2.8" fill="#ff0000"/>
<circle cx="256.47" cy="270.55" r="2.8" fill="#ff0000"/>
<circle cx="355.07" cy="253.88" r="2.8" fill="#ff0000"/>
<circle cx="235.55" cy="291.73" r="2.8" fill="#ff0000"/>
<circle cx="256.47" cy="272.80" r="2.8" fill="#ff0000"/>
<circle cx="355.07" cy="251.62" r="2.8" fill="#ff0000"/>
<circle cx="289.34" cy="260.19" r="2.8" fill="#000"/>
</g>
<rect x="223.60" y="192.60" width="144.80" height="157.70" fill="none" stroke="#262626" stroke-width="1.1"/>
<path d="M223.60 350.30v-2.90M223.60 192.60v2.90M229.58 350.30v-1.40M229.58 192.60v1.40M235.55 350.30v-1.40M235.55 192.60v1.40M241.53 350.30v-1.40M241.53 192.60v1.40M247.50 350.30v-1.40M247.50 192.60v1.40M253.48 350.30v-2.90M253.48 192.60v2.90M259.46 350.30v-1.40M259.46 192.60v1.40M265.43 350.30v-1.40M265.43 192.60v1.40M271.41 350.30v-1.40M271.41 192.60v1.40M277.38 350.30v-1.40M277.38 192.60v1.40M283.36 350.30v-2.90M283.36 192.60v2.90M289.34 350.30v-1.40M289.34 192.60v1.40M295.31 350.30v-1.40M295.31 192.60v1.40M301.29 350.30v-1.40M301.29 192.60v1.40M307.26 350.30v-1.40M307.26 192.60v1.40M313.24 350.30v-2.90M313.24 192.60v2.90M319.22 350.30v-1.40M319.22 192.60v1.40M325.19 350.30v-1.40M325.19 192.60v1.40M331.17 350.30v-1.40M331.17 192.60v1.40M337.15 350.30v-1.40M337.15 192.60v1.40M343.12 350.30v-2.90M343.12 192.60v2.90M349.10 350.30v-1.40M349.10 192.60v1.40M355.07 350.30v-1.40M355.07 192.60v1.40M361.05 350.30v-1.40M361.05 192.60v1.40M367.03 350.30v-1.40M367.03 192.60v1.40M223.60 350.30h2.90M368.40 350.30h-2.90M223.60 341.29h1.40M368.40 341.29h-1.40M223.60 332.28h1.40M368.40 332.28h-1.40M223.60 323.27h1.40M368.40 323.27h-1.40M223.60 314.25h1.40M368.40 314.25h-1.40M223.60 305.24h2.90M368.40 305.24h-2.90M223.60 296.23h1.40M368.40 296.23h-1.40M223.60 287.22h1.40M368.40 287.22h-1.40M223.60 278.21h1.40M368.40 278.21h-1.40M223.60 269.20h1.40M368.40 269.20h-1.40M223.60 260.19h2.90M368.40 260.19h-2.90M223.60 251.17h1.40M368.40 251.17h-1.40M223.60 242.16h1.40M368.40 242.16h-1.40M223.60 233.15h1.40M368.40 233.15h-1.40M223.60 224.14h1.40M368.40 224.14h-1.40M223.60 215.13h2.90M368.40 215.13h-2.90M223.60 206.12h1.40M368.40 206.12h-1.40M223.60 197.11h1.40M368.40 197.11h-1.40" stroke="#262626" stroke-width="1.0" fill="none"/>
<text transform="translate(223.60 364.50) scale(1 1.100)" font-size="10.6" text-anchor="middle">0.00</text>
<text transform="translate(253.48 364.50) scale(1 1.100)" font-size="10.6" text-anchor="middle">0.05</text>
<text transform="translate(283.36 364.50) scale(1 1.100)" font-size="10.6" text-anchor="middle">0.10</text>
<text transform="translate(313.24 364.50) scale(1 1.100)" font-size="10.6" text-anchor="middle">0.15</text>
<text transform="translate(343.12 364.50) scale(1 1.100)" font-size="10.6" text-anchor="middle">0.20</text>
<text transform="translate(220.80 350.30) scale(1 1.100)" font-size="10.6" text-anchor="end">0.0</text>
<text transform="translate(220.80 308.84) scale(1 1.100)" font-size="10.6" text-anchor="end">0.5</text>
<text transform="translate(220.80 263.79) scale(1 1.100)" font-size="10.6" text-anchor="end">1.0</text>
<text transform="translate(220.80 218.73) scale(1 1.100)" font-size="10.6" text-anchor="end">1.5</text>
<text transform="translate(199.60 271.85) rotate(-90)" font-size="10.8" text-anchor="middle">Normalized Planet Yield</text>
<text transform="translate(296.00 375.70) scale(1 1.100)" font-size="10.6" text-anchor="middle">Bandwidth (μm)</text>
</g>
<g>
<clipPath id="c21"><rect x="415.10" y="192.60" width="144.80" height="157.70"/></clipPath>
<g clip-path="url(#c21)">
<polyline points="448.01,286.32 464.46,273.25 480.92,260.19 513.83,241.71 546.74,226.84" fill="none" stroke="#c0e2fa" stroke-width="1.4" stroke-linejoin="round"/>
<polyline points="448.01,284.97 464.46,272.62 480.92,260.19 513.83,242.61 546.74,228.65" fill="none" stroke="#c0e2fa" stroke-width="1.4" stroke-linejoin="round" stroke-linecap="round" stroke-width="1.3" stroke-dasharray="0.01 3.4"/>
<polyline points="448.01,283.16 464.46,271.45 480.92,260.19 513.83,244.87 546.74,231.35" fill="none" stroke="#16a0f6" stroke-width="1.4" stroke-linejoin="round"/>
<polyline points="448.01,282.26 464.46,270.55 480.92,260.19 513.83,244.42 546.74,234.05" fill="none" stroke="#16a0f6" stroke-width="1.4" stroke-linejoin="round" stroke-dasharray="6 2 1 2"/>
<polyline points="448.01,279.11 464.46,269.20 480.92,260.19 513.83,247.57 546.74,236.76" fill="none" stroke="#ff0000" stroke-width="1.4" stroke-linejoin="round" stroke-dasharray="6 2 1 2"/>
<polyline points="448.01,276.23 464.46,269.20 480.92,260.19 513.83,247.57 546.74,236.76" fill="none" stroke="#ff0000" stroke-width="1.4" stroke-linejoin="round"/>
<circle cx="448.01" cy="286.32" r="2.8" fill="#c0e2fa"/>
<circle cx="464.46" cy="273.25" r="2.8" fill="#c0e2fa"/>
<circle cx="513.83" cy="241.71" r="2.8" fill="#c0e2fa"/>
<circle cx="546.74" cy="226.84" r="2.8" fill="#c0e2fa"/>
<circle cx="448.01" cy="284.97" r="2.8" fill="#c0e2fa"/>
<circle cx="464.46" cy="272.62" r="2.8" fill="#c0e2fa"/>
<circle cx="513.83" cy="242.61" r="2.8" fill="#c0e2fa"/>
<circle cx="546.74" cy="228.65" r="2.8" fill="#c0e2fa"/>
<circle cx="448.01" cy="283.16" r="2.8" fill="#16a0f6"/>
<circle cx="464.46" cy="271.45" r="2.8" fill="#16a0f6"/>
<circle cx="513.83" cy="244.87" r="2.8" fill="#16a0f6"/>
<circle cx="546.74" cy="231.35" r="2.8" fill="#16a0f6"/>
<circle cx="448.01" cy="282.26" r="2.8" fill="#16a0f6"/>
<circle cx="464.46" cy="270.55" r="2.8" fill="#16a0f6"/>
<circle cx="513.83" cy="244.42" r="2.8" fill="#16a0f6"/>
<circle cx="546.74" cy="234.05" r="2.8" fill="#16a0f6"/>
<circle cx="448.01" cy="279.11" r="2.8" fill="#ff0000"/>
<circle cx="464.46" cy="269.20" r="2.8" fill="#ff0000"/>
<circle cx="513.83" cy="247.57" r="2.8" fill="#ff0000"/>
<circle cx="546.74" cy="236.76" r="2.8" fill="#ff0000"/>
<circle cx="448.01" cy="276.23" r="2.8" fill="#ff0000"/>
<circle cx="464.46" cy="269.20" r="2.8" fill="#ff0000"/>
<circle cx="513.83" cy="247.57" r="2.8" fill="#ff0000"/>
<circle cx="546.74" cy="236.76" r="2.8" fill="#ff0000"/>
<circle cx="480.92" cy="260.19" r="2.8" fill="#000"/>
</g>
<rect x="415.10" y="192.60" width="144.80" height="157.70" fill="none" stroke="#262626" stroke-width="1.1"/>
<path d="M415.10 350.30v-2.90M415.10 192.60v2.90M421.68 350.30v-1.40M421.68 192.60v1.40M428.26 350.30v-1.40M428.26 192.60v1.40M434.85 350.30v-1.40M434.85 192.60v1.40M441.43 350.30v-1.40M441.43 192.60v1.40M448.01 350.30v-2.90M448.01 192.60v2.90M454.59 350.30v-1.40M454.59 192.60v1.40M461.17 350.30v-1.40M461.17 192.60v1.40M467.75 350.30v-1.40M467.75 192.60v1.40M474.34 350.30v-1.40M474.34 192.60v1.40M480.92 350.30v-2.90M480.92 192.60v2.90M487.50 350.30v-1.40M487.50 192.60v1.40M494.08 350.30v-1.40M494.08 192.60v1.40M500.66 350.30v-1.40M500.66 192.60v1.40M507.25 350.30v-1.40M507.25 192.60v1.40M513.83 350.30v-2.90M513.83 192.60v2.90M520.41 350.30v-1.40M520.41 192.60v1.40M526.99 350.30v-1.40M526.99 192.60v1.40M533.57 350.30v-1.40M533.57 192.60v1.40M540.15 350.30v-1.40M540.15 192.60v1.40M546.74 350.30v-2.90M546.74 192.60v2.90M553.32 350.30v-1.40M553.32 192.60v1.40M559.90 350.30v-1.40M559.90 192.60v1.40M415.10 350.30h2.90M559.90 350.30h-2.90M415.10 341.29h1.40M559.90 341.29h-1.40M415.10 332.28h1.40M559.90 332.28h-1.40M415.10 323.27h1.40M559.90 323.27h-1.40M415.10 314.25h1.40M559.90 314.25h-1.40M415.10 305.24h2.90M559.90 305.24h-2.90M415.10 296.23h1.40M559.90 296.23h-1.40M415.10 287.22h1.40M559.90 287.22h-1.40M415.10 278.21h1.40M559.90 278.21h-1.40M415.10 269.20h1.40M559.90 269.20h-1.40M415.10 260.19h2.90M559.90 260.19h-2.90M415.10 251.17h1.40M559.90 251.17h-1.40M415.10 242.16h1.40M559.90 242.16h-1.40M415.10 233.15h1.40M559.90 233.15h-1.40M415.10 224.14h1.40M559.90 224.14h-1.40M415.10 215.13h2.90M559.90 215.13h-2.90M415.10 206.12h1.40M559.90 206.12h-1.40M415.10 197.11h1.40M559.90 197.11h-1.40" stroke="#262626" stroke-width="1.0" fill="none"/>
<text transform="translate(415.10 364.50) scale(1 1.100)" font-size="10.6" text-anchor="middle">0.0</text>
<text transform="translate(448.01 364.50) scale(1 1.100)" font-size="10.6" text-anchor="middle">0.5</text>
<text transform="translate(480.92 364.50) scale(1 1.100)" font-size="10.6" text-anchor="middle">1.0</text>
<text transform="translate(513.83 364.50) scale(1 1.100)" font-size="10.6" text-anchor="middle">1.5</text>
<text transform="translate(546.74 364.50) scale(1 1.100)" font-size="10.6" text-anchor="middle">2.0</text>
<text transform="translate(412.30 350.30) scale(1 1.100)" font-size="10.6" text-anchor="end">0.0</text>
<text transform="translate(412.30 308.84) scale(1 1.100)" font-size="10.6" text-anchor="end">0.5</text>
<text transform="translate(412.30 263.79) scale(1 1.100)" font-size="10.6" text-anchor="end">1.0</text>
<text transform="translate(412.30 218.73) scale(1 1.100)" font-size="10.6" text-anchor="end">1.5</text>
<text transform="translate(391.10 271.85) rotate(-90)" font-size="10.8" text-anchor="middle">Normalized Planet Yield</text>
<text transform="translate(487.50 375.70) scale(1 1.100)" font-size="10.6" text-anchor="middle">Total Exposure Time (yrs)</text>
</g>
<g>
<clipPath id="c31"><rect x="606.60" y="192.60" width="144.80" height="157.70"/></clipPath>
<g clip-path="url(#c31)">
<polyline points="608.79,239.82 613.18,260.19 619.76,265.77 628.54,268.30 672.42,278.21 738.24,288.84" fill="none" stroke="#c0e2fa" stroke-width="1.4" stroke-linejoin="round"/>
<polyline points="608.79,253.43 613.18,260.19 619.76,272.80 628.54,285.42 672.42,305.24 738.24,316.96" fill="none" stroke="#c0e2fa" stroke-width="1.4" stroke-linejoin="round" stroke-linecap="round" stroke-width="1.3" stroke-dasharray="0.01 3.4"/>
<polyline points="608.79,242.70 613.18,260.19 619.76,274.06 628.54,282.71 672.42,300.83 738.24,312.09" fill="none" stroke="#16a0f6" stroke-width="1.4" stroke-linejoin="round"/>
<polyline points="608.79,242.16 613.18,260.19 619.76,273.70 628.54,281.81 672.42,299.84 738.24,313.35" fill="none" stroke="#16a0f6" stroke-width="1.4" stroke-linejoin="round" stroke-dasharray="6 2 1 2"/>
<polyline points="608.79,244.87 613.18,260.19 619.76,271.36 628.54,277.58 672.42,291.64 738.24,302.00" fill="none" stroke="#ff0000" stroke-width="1.4" stroke-linejoin="round" stroke-dasharray="6 2 1 2"/>
<polyline points="608.79,248.20 613.18,260.19 619.76,271.36 628.54,279.74 672.42,297.76 738.24,307.05" fill="none" stroke="#ff0000" stroke-width="1.4" stroke-linejoin="round"/>
<circle cx="608.79" cy="239.82" r="2.8" fill="#c0e2fa"/>
<circle cx="619.76" cy="265.77" r="2.8" fill="#c0e2fa"/>
<circle cx="628.54" cy="268.30" r="2.8" fill="#c0e2fa"/>
<circle cx="672.42" cy="278.21" r="2.8" fill="#c0e2fa"/>
<circle cx="738.24" cy="288.84" r="2.8" fill="#c0e2fa"/>
<circle cx="608.79" cy="253.43" r="2.8" fill="#c0e2fa"/>
<circle cx="619.76" cy="272.80" r="2.8" fill="#c0e2fa"/>
<circle cx="628.54" cy="285.42" r="2.8" fill="#c0e2fa"/>
<circle cx="672.42" cy="305.24" r="2.8" fill="#c0e2fa"/>
<circle cx="738.24" cy="316.96" r="2.8" fill="#c0e2fa"/>
<circle cx="608.79" cy="242.70" r="2.8" fill="#16a0f6"/>
<circle cx="619.76" cy="274.06" r="2.8" fill="#16a0f6"/>
<circle cx="628.54" cy="282.71" r="2.8" fill="#16a0f6"/>
<circle cx="672.42" cy="300.83" r="2.8" fill="#16a0f6"/>
<circle cx="738.24" cy="312.09" r="2.8" fill="#16a0f6"/>
<circle cx="608.79" cy="242.16" r="2.8" fill="#16a0f6"/>
<circle cx="619.76" cy="273.70" r="2.8" fill="#16a0f6"/>
<circle cx="628.54" cy="281.81" r="2.8" fill="#16a0f6"/>
<circle cx="672.42" cy="299.84" r="2.8" fill="#16a0f6"/>
<circle cx="738.24" cy="313.35" r="2.8" fill="#16a0f6"/>
<circle cx="608.79" cy="244.87" r="2.8" fill="#ff0000"/>
<circle cx="619.76" cy="271.36" r="2.8" fill="#ff0000"/>
<circle cx="628.54" cy="277.58" r="2.8" fill="#ff0000"/>
<circle cx="672.42" cy="291.64" r="2.8" fill="#ff0000"/>
<circle cx="738.24" cy="302.00" r="2.8" fill="#ff0000"/>
<circle cx="608.79" cy="248.20" r="2.8" fill="#ff0000"/>
<circle cx="619.76" cy="271.36" r="2.8" fill="#ff0000"/>
<circle cx="628.54" cy="279.74" r="2.8" fill="#ff0000"/>
<circle cx="672.42" cy="297.76" r="2.8" fill="#ff0000"/>
<circle cx="738.24" cy="307.05" r="2.8" fill="#ff0000"/>
<circle cx="613.18" cy="260.19" r="2.8" fill="#000"/>
</g>
<rect x="606.60" y="192.60" width="144.80" height="157.70" fill="none" stroke="#262626" stroke-width="1.1"/>
<path d="M606.60 350.30v-2.90M606.60 192.60v2.90M608.79 350.30v-1.40M608.79 192.60v1.40M610.99 350.30v-1.40M610.99 192.60v1.40M613.18 350.30v-1.40M613.18 192.60v1.40M615.38 350.30v-1.40M615.38 192.60v1.40M617.57 350.30v-1.40M617.57 192.60v1.40M619.76 350.30v-1.40M619.76 192.60v1.40M621.96 350.30v-1.40M621.96 192.60v1.40M624.15 350.30v-1.40M624.15 192.60v1.40M626.35 350.30v-1.40M626.35 192.60v1.40M628.54 350.30v-2.90M628.54 192.60v2.90M630.73 350.30v-1.40M630.73 192.60v1.40M632.93 350.30v-1.40M632.93 192.60v1.40M635.12 350.30v-1.40M635.12 192.60v1.40M637.32 350.30v-1.40M637.32 192.60v1.40M639.51 350.30v-1.40M639.51 192.60v1.40M641.70 350.30v-1.40M641.70 192.60v1.40M643.90 350.30v-1.40M643.90 192.60v1.40M646.09 350.30v-1.40M646.09 192.60v1.40M648.28 350.30v-1.40M648.28 192.60v1.40M650.48 350.30v-2.90M650.48 192.60v2.90M652.67 350.30v-1.40M652.67 192.60v1.40M654.87 350.30v-1.40M654.87 192.60v1.40M657.06 350.30v-1.40M657.06 192.60v1.40M659.25 350.30v-1.40M659.25 192.60v1.40M661.45 350.30v-1.40M661.45 192.60v1.40M663.64 350.30v-1.40M663.64 192.60v1.40M665.84 350.30v-1.40M665.84 192.60v1.40M668.03 350.30v-1.40M668.03 192.60v1.40M670.22 350.30v-1.40M670.22 192.60v1.40M672.42 350.30v-2.90M672.42 192.60v2.90M674.61 350.30v-1.40M674.61 192.60v1.40M676.81 350.30v-1.40M676.81 192.60v1.40M679.00 350.30v-1.40M679.00 192.60v1.40M681.19 350.30v-1.40M681.19 192.60v1.40M683.39 350.30v-1.40M683.39 192.60v1.40M685.58 350.30v-1.40M685.58 192.60v1.40M687.78 350.30v-1.40M687.78 192.60v1.40M689.97 350.30v-1.40M689.97 192.60v1.40M692.16 350.30v-1.40M692.16 192.60v1.40M694.36 350.30v-2.90M694.36 192.60v2.90M696.55 350.30v-1.40M696.55 192.60v1.40M698.75 350.30v-1.40M698.75 192.60v1.40M700.94 350.30v-1.40M700.94 192.60v1.40M703.13 350.30v-1.40M703.13 192.60v1.40M705.33 350.30v-1.40M705.33 192.60v1.40M707.52 350.30v-1.40M707.52 192.60v1.40M709.72 350.30v-1.40M709.72 192.60v1.40M711.91 350.30v-1.40M711.91 192.60v1.40M714.10 350.30v-1.40M714.10 192.60v1.40M716.30 350.30v-2.90M716.30 192.60v2.90M718.49 350.30v-1.40M718.49 192.60v1.40M720.68 350.30v-1.40M720.68 192.60v1.40M722.88 350.30v-1.40M722.88 192.60v1.40M725.07 350.30v-1.40M725.07 192.60v1.40M727.27 350.30v-1.40M727.27 192.60v1.40M729.46 350.30v-1.40M729.46 192.60v1.40M731.65 350.30v-1.40M731.65 192.60v1.40M733.85 350.30v-1.40M733.85 192.60v1.40M736.04 350.30v-1.40M736.04 192.60v1.40M738.24 350.30v-2.90M738.24 192.60v2.90M740.43 350.30v-1.40M740.43 192.60v1.40M742.62 350.30v-1.40M742.62 192.60v1.40M744.82 350.30v-1.40M744.82 192.60v1.40M747.01 350.30v-1.40M747.01 192.60v1.40M749.21 350.30v-1.40M749.21 192.60v1.40M751.40 350.30v-1.40M751.40 192.60v1.40M606.60 350.30h2.90M751.40 350.30h-2.90M606.60 341.29h1.40M751.40 341.29h-1.40M606.60 332.28h1.40M751.40 332.28h-1.40M606.60 323.27h1.40M751.40 323.27h-1.40M606.60 314.25h1.40M751.40 314.25h-1.40M606.60 305.24h2.90M751.40 305.24h-2.90M606.60 296.23h1.40M751.40 296.23h-1.40M606.60 287.22h1.40M751.40 287.22h-1.40M606.60 278.21h1.40M751.40 278.21h-1.40M606.60 269.20h1.40M751.40 269.20h-1.40M606.60 260.19h2.90M751.40 260.19h-2.90M606.60 251.17h1.40M751.40 251.17h-1.40M606.60 242.16h1.40M751.40 242.16h-1.40M606.60 233.15h1.40M751.40 233.15h-1.40M606.60 224.14h1.40M751.40 224.14h-1.40M606.60 215.13h2.90M751.40 215.13h-2.90M606.60 206.12h1.40M751.40 206.12h-1.40M606.60 197.11h1.40M751.40 197.11h-1.40" stroke="#262626" stroke-width="1.0" fill="none"/>
<text transform="translate(606.60 364.50) scale(1 1.100)" font-size="10.6" text-anchor="middle">0</text>
<text transform="translate(628.54 364.50) scale(1 1.100)" font-size="10.6" text-anchor="middle">10</text>
<text transform="translate(650.48 364.50) scale(1 1.100)" font-size="10.6" text-anchor="middle">20</text>
<text transform="translate(672.42 364.50) scale(1 1.100)" font-size="10.6" text-anchor="middle">30</text>
<text transform="translate(694.36 364.50) scale(1 1.100)" font-size="10.6" text-anchor="middle">40</text>
<text transform="translate(716.30 364.50) scale(1 1.100)" font-size="10.6" text-anchor="middle">50</text>
<text transform="translate(738.24 364.50) scale(1 1.100)" font-size="10.6" text-anchor="middle">60</text>
<text transform="translate(603.80 350.30) scale(1 1.100)" font-size="10.6" text-anchor="end">0.0</text>
<text transform="translate(603.80 308.84) scale(1 1.100)" font-size="10.6" text-anchor="end">0.5</text>
<text transform="translate(603.80 263.79) scale(1 1.100)" font-size="10.6" text-anchor="end">1.0</text>
<text transform="translate(603.80 218.73) scale(1 1.100)" font-size="10.6" text-anchor="end">1.5</text>
<text transform="translate(582.60 271.85) rotate(-90)" font-size="10.8" text-anchor="middle">Normalized Planet Yield</text>
<text transform="translate(679.00 375.70) scale(1 1.100)" font-size="10.6" text-anchor="middle">n<tspan font-size="6.5" dy="2.5">exozodis</tspan></text>
</g>
</svg></body></html>
